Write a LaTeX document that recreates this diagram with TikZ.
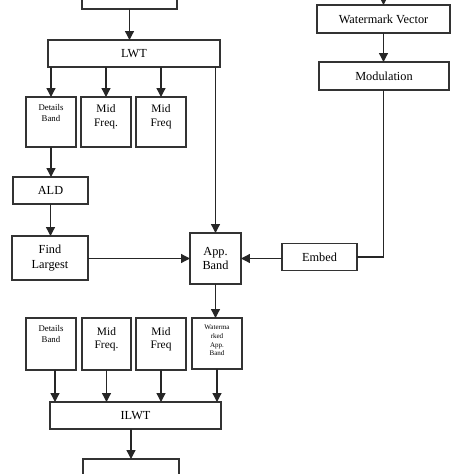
\documentclass[tikz,border=0pt]{standalone}
\usepackage{fontspec}
\setmainfont{Liberation Serif}
\usetikzlibrary{arrows.meta}
\begin{document}
\begin{tikzpicture}[x=0.02cm,y=-0.02cm,
 box/.style={draw=black!80,line width=0.7pt,inner sep=0pt,outer sep=0pt,align=center,font=\fontsize{7}{8.4}\selectfont},
 band/.style={box,minimum width=1cm,minimum height=1cm},
 intxt/.style={inner sep=0pt,anchor=north,align=center,yshift=-0.15cm},
 arr/.style={-{Triangle[length=5pt,width=5pt]},line width=0.7pt,black!85}]
\clip (0,0) rectangle (474,474);
\node[box,minimum width=1.9cm,minimum height=0.76cm] (img) at (129.5,-10) {};
\node[box,minimum width=3.44cm,minimum height=0.54cm] (lwt) at (134,53.5) {LWT};
\node[band,label={[intxt,font=\fontsize{5}{6}\selectfont]north:{Details\\Band}}] (db1) at (51,122) {};
\node[band,label={[intxt,font=\fontsize{6.5}{7.8}\selectfont]north:{Mid\\Freq.}}] (mf1) at (106,122) {};
\node[band,label={[intxt,font=\fontsize{6.5}{7.8}\selectfont]north:{Mid\\Freq}}] (mf2) at (161,122) {};
\node[box,minimum width=1.5cm,minimum height=0.54cm] (ald) at (50.5,190.5) {ALD};
\node[box,minimum width=1.52cm,minimum height=0.88cm] (fl) at (50,258) {Find\\Largest};
\node[box,minimum width=1.02cm,minimum height=1.02cm] (app) at (215.5,258.5) {App.\\Band};
\node[box,minimum width=1.5cm,minimum height=0.54cm] (emb) at (319.5,257) {Embed};
\node[box,minimum width=2.66cm,minimum height=0.56cm] (wv) at (383.5,19) {Watermark Vector};
\node[box,minimum width=2.6cm,minimum height=0.56cm] (mod) at (384,76) {Modulation};
\coordinate (wvin) at (383.5,0);
\node[band,minimum height=1.04cm,label={[intxt,font=\fontsize{5}{6}\selectfont]north:{Details\\Band}}] (db2) at (51,344) {};
\node[band,minimum width=0.98cm,minimum height=1.04cm,label={[intxt,yshift=-0.03cm,font=\fontsize{6.5}{7.8}\selectfont]north:{Mid\\Freq.}}] (mf3) at (106.5,344) {};
\node[band,minimum height=1.04cm,label={[intxt,yshift=-0.03cm,font=\fontsize{6.5}{7.8}\selectfont]north:{Mid\\Freq}}] (mf4) at (161,344) {};
\node[band,minimum height=1.02cm,label={[intxt,yshift=0.02cm,font=\fontsize{4}{5}\selectfont]north:{Waterma\\rked\\App.\\Band}}] (wab) at (217,343.5) {};
\node[box,minimum width=3.42cm,minimum height=0.54cm] (ilwt) at (135.5,415.5) {ILWT};
\node[box,minimum width=1.92cm,minimum height=0.76cm] (out) at (131,478) {};
\draw[arr] (img.south -| lwt.north) ++(-4.5,0) coordinate (imgs) -- (imgs |- lwt.north);
\draw[arr] (db1.north |- lwt.south) -- (db1.north);
\draw[arr] (mf1.north |- lwt.south) -- (mf1.north);
\draw[arr] (mf2.north |- lwt.south) -- (mf2.north);
\draw[arr] (app.north |- lwt.south) -- (app.north);
\draw[arr] (db1.south) -- (ald.north -| db1.south);
\draw[arr] (ald.south) -- (fl.north -| ald.south);
\draw[arr] (fl.east |- app.west) -- (app.west);
\draw[arr] (wvin) -- (wv.north);
\draw[arr] (wv.south) -- (mod.north -| wv.south);
\draw[line width=0.7pt,black!85] (mod.south -| wv.south) -- (emb.east -| wv.south) -- (emb.east);
\draw[arr] (emb.west |- app.east) -- (app.east);
\draw[arr] (app.south) -- (wab.north -| app.south);
\draw[arr] (db2.south) ++(4,0) coordinate (db2s) -- (db2s |- ilwt.north);
\draw[arr] (mf3.south) -- (ilwt.north -| mf3.south);
\draw[arr] (mf4.south) -- (ilwt.north -| mf4.south);
\draw[arr] (wab.south) -- (ilwt.north -| wab.south);
\draw[arr] (ilwt.south -| out.north) -- (out.north);
\end{tikzpicture}
\end{document}
